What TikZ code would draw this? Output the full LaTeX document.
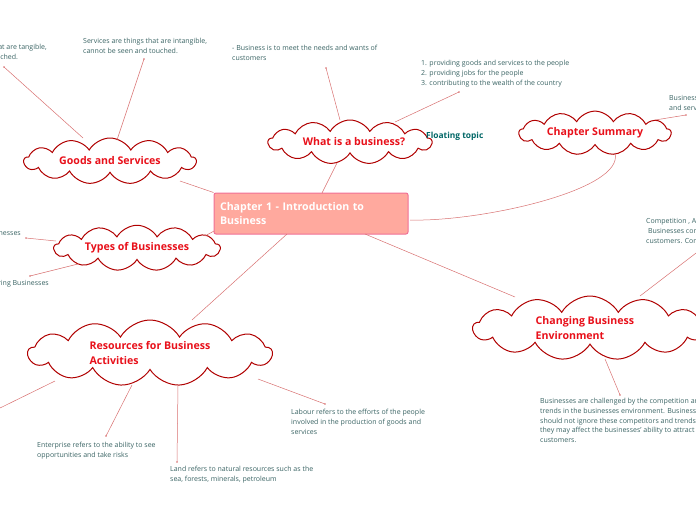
\documentclass[tikz,border=0pt]{standalone}
\usepackage{fontspec}
\setmainfont{Open Sans}
\usetikzlibrary{shapes.symbols}
\definecolor{cl}{HTML}{B00000}
\definecolor{tt}{HTML}{E8101A}
\definecolor{lf}{HTML}{3A6464}
\definecolor{ln}{HTML}{D87070}
\tikzset{
 cld/.style={cloud, cloud puffs=13, cloud puff arc=120, cloud ignores aspect, draw=cl, line width=1pt, fill=white,
   font=\bfseries\fontsize{10.6}{14.5}\selectfont, text=tt, align=left},
 leaf/.style={font=\fontsize{7}{9.8}\selectfont, text=lf, align=left, inner sep=0pt},
 con/.style={draw=ln, line width=0.5pt},
 dot/.style={circle, fill=ln, inner sep=0.6pt}
}
\begin{document}
\begin{tikzpicture}[x=1pt,y=-1pt]
\useasboundingbox (0,0) rectangle (696,520);
% central
\node[draw={rgb,255:red,240;green,112;blue,150}, fill={rgb,255:red,255;green,169;blue,158}, rounded corners=2pt, line width=1pt,
  minimum width=194pt, minimum height=41pt, text width=182pt, align=left,
  font=\bfseries\fontsize{10.6}{14.5}\selectfont, text=white] (c) at (311,213.5) {Chapter 1 - Introduction to\\Business};
% clouds
\node[cld, minimum width=172pt, minimum height=46pt] (g) at (110,161) {Goods and Services};
\node[cld, minimum width=162pt, minimum height=44pt] (w) at (350,142) {\hspace*{8pt}What is a business?};
\node[cld, minimum width=152pt, minimum height=42pt] (s) at (595,133) {Chapter Summary};
\node[cld, minimum width=166pt, minimum height=42pt] (t) at (137,248) {Types of Businesses};
\node[cld, minimum width=244pt, minimum height=66pt] (r) at (150,353) {Resources for Business\\Activities\hspace*{60pt}};
\node[cld, minimum width=234pt, minimum height=64pt] (ch) at (590,328) {Changing Business\\Environment\hspace*{40pt}};
\node[font=\bfseries\fontsize{8.4}{10}\selectfont, text={rgb,255:red,0;green,102;blue,102}, anchor=west, inner sep=0pt] (fl) at (426,136) {Floating topic};
% leaves
\node[leaf, anchor=north east] (l1) at (47,44) {Goods are things that are tangible,\\can be seen and touched.};
\node[leaf, anchor=north west] (l2) at (83,38) {Services are things that are intangible,\\cannot be seen and touched.};
\node[leaf, anchor=north west] (l3) at (232,45) {- Business is to meet the needs and wants of\\customers};
\node[leaf, anchor=north west] (l4) at (421,60) {1. providing goods and services to the people\\2. providing jobs for the people\\3. contributing to the wealth of the country};
\node[leaf, anchor=north west] (l5) at (669,95) {Businesses provide goods\\and services};
\node[leaf, anchor=north west] (l6) at (646,218) {Competition , Advertising\\\ Businesses compete for\\customers. Competition};
\node[leaf, anchor=north east] (l7) at (21,230) {Service Businesses};
\node[leaf, anchor=north east] (l8) at (49,280) {Manufacturing Businesses};
\node[leaf, anchor=north west] (l9) at (291,409) {Labour refers to the efforts of the people\\involved in the production of goods and\\services};
\node[leaf, anchor=north west] (l10) at (37,442) {Enterprise refers to the ability to see\\opportunities and take risks};
\node[leaf, anchor=north west] (l11) at (170,466) {Land refers to natural resources such as the\\sea, forests, minerals, petroleum};
\node[leaf, anchor=north west] (l12) at (540,398) {Businesses are challenged by the competition and\\trends in the businesses environment. Businesses\\should not ignore these competitors and trends as\\they may affect the businesses' ability to attract\\customers.};
% end coordinates
\coordinate (e1) at (4,67); \coordinate (e2) at (144,59); \coordinate (e3) at (326,68);
\coordinate (e4) at (459,92); \coordinate (e5) at (686,115); \coordinate (e6) at (26,238);
\coordinate (e7) at (30,276); \coordinate (e8) at (0,408); \coordinate (e9) at (106,436);
\coordinate (e10) at (177,462); \coordinate (e11) at (325,404); \coordinate (e12) at (620,395);
\coordinate (e13) at (700,250);
\foreach \e in {e1,e2,e3,e4,e5,e6,e7,e9,e10,e11,e12} \node[dot] at (\e) {};
\draw[con] (83,138) -- (e1);
\draw[con] (117,140) -- (e2);
\draw[con] (340,120) -- (e3);
\draw[con] (395,122) -- (e4);
\draw[con] (655,120) -- (e5);
\draw[con] (56,241) -- (e6);
\draw[con] (78,264) -- (e7);
\draw[con] (55,381) -- (e8);
\draw[con] (132,385) -- (e9);
\draw[con] (178,385) -- (e10);
\draw[con] (258,379) -- (e11);
\draw[con] (605,359) -- (e12);
\draw[con] (640,296) -- (e13);
\draw[con] (180,181) -- (c.north west);
\draw[con] (337,163) -- (322,193);
\draw[con] (205,236) -- (214,231);
\draw[con] (287,234) -- (192,320);
\draw[con] (365,234) -- (515,297);
\draw[con] (615,153) .. controls (625,190) and (480,222) .. (410,220);
\end{tikzpicture}
\end{document}
